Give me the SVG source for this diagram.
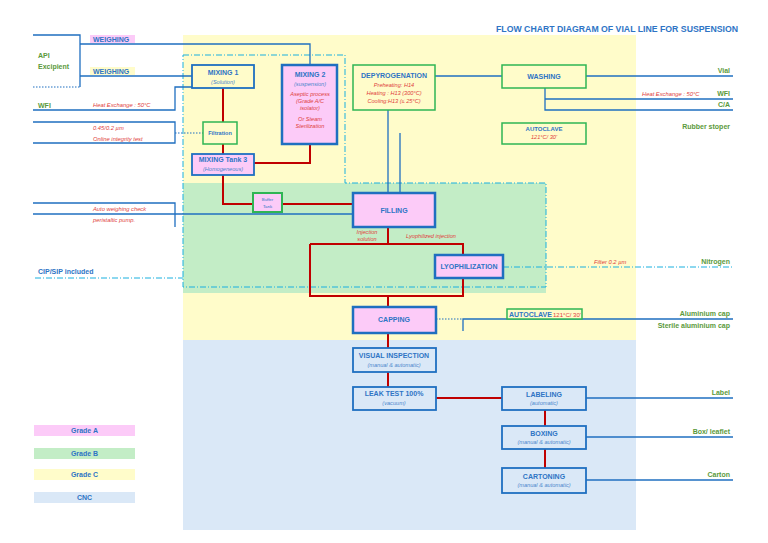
<svg xmlns="http://www.w3.org/2000/svg" width="768" height="543" viewBox="0 0 768 543">
<style>
text{font-family:"Liberation Sans",Arial,sans-serif}
.t{fill:#2e74c5;font-weight:bold;font-size:7px;text-anchor:middle}
.s{fill:#4a86cc;font-style:italic;font-size:5.6px;text-anchor:middle}
.r{fill:#e0403c;font-style:italic;font-size:5.6px;text-anchor:middle}
.rl{fill:#e0403c;font-style:italic;font-size:5.8px}
.g{fill:#5b9a3c;font-weight:bold;font-size:7px}
.gr{fill:#5b9a3c;font-weight:bold;font-size:7px;text-anchor:end}
.bp{fill:#fccbf8;stroke:#1f6fc0;stroke-width:2.5}
.bpt{fill:#fccbf8;stroke:#1f6fc0;stroke-width:1.8}
.by{fill:#fffcca;stroke:#1f6fc0;stroke-width:1.8}
.bg{fill:#fffcca;stroke:#2fb554;stroke-width:1.5}
.bc{fill:#dae8f7;stroke:#1f6fc0;stroke-width:1.8}
.red{fill:none;stroke:#c00000;stroke-width:2}
.bl{fill:none;stroke:#1f6fc0;stroke-width:1.3}
.dd{fill:none;stroke:#1ab0df;stroke-width:1;stroke-dasharray:6 2 1 2}
.dt{fill:none;stroke:#1f6fc0;stroke-width:1;stroke-dasharray:1.5 1.5}
</style>
<rect width="768" height="543" fill="#ffffff"/>
<!-- zones -->
<rect x="183" y="35" width="453" height="305" fill="#fffcca"/>
<rect x="183" y="340" width="453" height="190" fill="#dae8f7"/>
<rect x="183" y="183" width="363" height="110" fill="#c3edc6"/>
<polyline class="dd" points="183,55 345,55 345,183 546,183 546,287 183,287 183,55"/>
<line class="dd" x1="35" y1="278" x2="183" y2="278"/>
<!-- title -->
<text x="738" y="32" style="fill:#2e74c5;font-weight:bold;font-size:9.6px;text-anchor:end" textLength="242" lengthAdjust="spacingAndGlyphs">FLOW CHART DIAGRAM OF VIAL LINE FOR SUSPENSION</text>
<!-- connectors -->
<g id="connectors">
<polyline class="red" points="223,88 223,122"/>
<polyline class="red" points="223,144 223,154"/>
<polyline class="red" points="310,144 310,163 254,163"/>
<polyline class="red" points="223,175 223,204 253,204"/>
<polyline class="red" points="282,204 353,204"/>
<polyline class="red" points="388,227 388,244"/>
<polyline class="red" points="310,244 463,244 463,255"/>
<polyline class="red" points="310,244 310,296 463,296 463,278"/>
<polyline class="red" points="388,296 388,307"/>
<polyline class="red" points="388,333 388,348"/>
<polyline class="red" points="388,372 388,387"/>
<polyline class="red" points="436,398 502,398"/>
<polyline class="red" points="545,410 545,426"/>
<polyline class="red" points="545,449 545,468"/>
<!-- blue feed lines -->
<polyline class="bl" points="33,35 80,35 80,87"/>
<line class="dt" x1="33" y1="87" x2="80" y2="87"/>
<polyline class="bl" points="80,44 310,44 310,65"/>
<polyline class="bl" points="80,76 192,76"/>
<polyline class="bl" points="33,110 175,110 175,87 192,87"/>
<polyline class="bl" points="33,122 175,122 175,143 33,143"/>
<line class="dt" x1="175" y1="133" x2="203" y2="133"/>
<polyline class="bl" points="33,203 175,203 175,227"/>
<line class="bl" x1="33" y1="214" x2="353" y2="214"/>
<line class="bl" x1="435" y1="76" x2="502" y2="76"/>
<line class="bl" x1="586" y1="76" x2="733" y2="76"/>
<polyline class="bl" points="545,88 545,110 733,110"/>
<line class="bl" x1="545" y1="99" x2="733" y2="99"/>
<line class="bl" x1="388" y1="110" x2="388" y2="193"/>
<line class="bl" x1="400" y1="133" x2="400" y2="193"/>
<line class="dd" x1="503" y1="267" x2="733" y2="267"/>
<line class="dt" x1="436" y1="319" x2="463" y2="319"/>
<polyline class="bl" points="463,331 463,319 733,319"/>
<line class="bl" x1="586" y1="398" x2="733" y2="398"/>
<line class="bl" x1="586" y1="437" x2="733" y2="437"/>
<line class="bl" x1="586" y1="480" x2="733" y2="480"/>
</g>
<!-- left labels -->
<rect x="90" y="35" width="45" height="8" fill="#fccbf8"/>
<text x="93" y="42" style="fill:#2e74c5;font-weight:bold;font-size:7px">WEIGHING</text>
<rect x="90" y="67" width="45" height="8" fill="#fffcca"/>
<text x="93" y="74" style="fill:#2e74c5;font-weight:bold;font-size:7px">WEIGHING</text>
<text x="38" y="58" class="g">API</text>
<text x="38" y="69" class="g">Excipient</text>
<text x="38" y="108" class="g">WFI</text>
<text x="93" y="107" class="rl">Heat Exchange : 50°C</text>
<text x="93" y="130" class="rl">0.45/0.2 µm</text>
<text x="93" y="141" class="rl">Online integrity test</text>
<text x="93" y="211" class="rl">Auto weighing check</text>
<text x="93" y="222" class="rl">peristaltic pump.</text>
<text x="38" y="274" style="fill:#2e74c5;font-weight:bold;font-size:7px">CIP/SIP included</text>
<!-- right labels -->
<text x="730" y="73" class="gr">Vial</text>
<text x="642" y="96" class="rl">Heat Exchange : 50°C</text>
<text x="730" y="96" class="gr">WFI</text>
<text x="730" y="107" class="gr">C/A</text>
<text x="730" y="129" class="gr">Rubber stoper</text>
<text x="594" y="264" class="rl">Filter 0.2 µm</text>
<text x="730" y="264" class="gr">Nitrogen</text>
<text x="730" y="316" class="gr">Aluminium cap</text>
<text x="730" y="328" class="gr">Sterile aluminium cap</text>
<text x="730" y="395" class="gr">Label</text>
<text x="730" y="434" class="gr">Box/ leaflet</text>
<text x="730" y="477" class="gr">Carton</text>
<text x="367" y="234" class="r">Injection</text>
<text x="367" y="241" class="r">solution</text>
<text x="431" y="238" class="r">Lyophilized injection</text>
<!-- nodes -->
<g id="mixing1"><rect class="by" x="192" y="65" width="62" height="23"/><text class="t" x="223" y="75">MIXING 1</text><text class="s" x="223" y="84">(Solution)</text></g>
<g id="mixing2"><rect class="bp" x="282" y="65" width="55" height="79"/><text class="t" x="310" y="77">MIXING 2</text><text class="s" x="310" y="86">(suspension)</text><text class="r" x="310" y="96">Aseptic process</text><text class="r" x="310" y="103">(Grade A/C</text><text class="r" x="310" y="110">isolator)</text><text class="r" x="310" y="121">Or Steam</text><text class="r" x="310" y="128">Sterilization</text></g>
<g id="filtration"><rect class="bg" x="203" y="122" width="34" height="22"/><text class="t" x="220" y="135" style="font-size:5.5px">Filtration</text></g>
<g id="mixing3"><rect class="bpt" x="192" y="154" width="62" height="21"/><text class="t" x="223" y="162">MIXING Tank 3</text><text class="s" x="223" y="171">(Homogeneous)</text></g>
<g id="buffer"><rect x="253" y="193" width="29" height="19" fill="#fccbf8" stroke="#2fb554" stroke-width="2"/><text class="t" x="267.5" y="201" style="font-size:4.3px;font-weight:normal">Buffer</text><text class="t" x="267.5" y="208" style="font-size:4.3px;font-weight:normal">Tank</text></g>
<g id="filling"><rect class="bp" x="353" y="193" width="82" height="34"/><text class="t" x="394" y="213">FILLING</text></g>
<g id="lyophilization"><rect class="bp" x="435" y="255" width="68" height="23"/><text class="t" x="469" y="269">LYOPHILIZATION</text></g>
<g id="depyrogenation"><rect class="bg" x="353" y="65" width="82" height="45"/><text class="t" x="394" y="78">DEPYROGENATION</text><text class="r" x="394" y="87">Preheating: H14</text><text class="r" x="394" y="95">Heating : H13 (300°C)</text><text class="r" x="394" y="103">Cooling:H13 (≤ 25°C)</text></g>
<g id="washing"><rect class="bg" x="502" y="65" width="84" height="23"/><text class="t" x="544" y="79">WASHING</text></g>
<g id="autoclave1"><rect class="bg" x="502" y="123" width="84" height="21"/><text class="t" x="544" y="131" style="font-size:6px">AUTOCLAVE</text><text class="r" x="544" y="139">121°C/ 30'</text></g>
<g id="capping"><rect class="bp" x="353" y="307" width="83" height="26"/><text class="t" x="394" y="322">CAPPING</text></g>
<g id="autoclave2"><rect class="bg" x="507" y="309" width="75" height="10"/><text x="509" y="317" style="fill:#2e74c5;font-weight:bold;font-size:7px">AUTOCLAVE</text><text x="553" y="317" style="fill:#e0403c;font-size:6px">121°C/ 30'</text></g>
<g id="visual"><rect class="bc" x="353" y="348" width="83" height="24"/><text class="t" x="394" y="358">VISUAL INSPECTION</text><text class="s" x="394" y="367">(manual &amp; automatic)</text></g>
<g id="leak"><rect class="bc" x="353" y="387" width="83" height="23"/><text class="t" x="394" y="396">LEAK TEST 100%</text><text class="s" x="394" y="405">(vacuum)</text></g>
<g id="labeling"><rect class="bc" x="502" y="387" width="84" height="23"/><text class="t" x="544" y="397">LABELING</text><text class="s" x="544" y="405">(automatic)</text></g>
<g id="boxing"><rect class="bc" x="502" y="426" width="84" height="23"/><text class="t" x="544" y="436">BOXING</text><text class="s" x="544" y="444">(manual &amp; automatic)</text></g>
<g id="cartoning"><rect class="bc" x="502" y="468" width="84" height="25"/><text class="t" x="544" y="479">CARTONING</text><text class="s" x="544" y="487">(manual &amp; automatic)</text></g>
<!-- legend -->
<g id="legend">
<rect x="34" y="425" width="101" height="11" fill="#fccbf8"/><text class="t" x="84.5" y="433">Grade A</text>
<rect x="34" y="448" width="101" height="11" fill="#c3edc6"/><text class="t" x="84.5" y="456">Grade B</text>
<rect x="34" y="469" width="101" height="11" fill="#fffcca"/><text class="t" x="84.5" y="477">Grade C</text>
<rect x="34" y="492" width="101" height="11" fill="#dae8f7"/><text class="t" x="84.5" y="500">CNC</text>
</g>
</svg>
